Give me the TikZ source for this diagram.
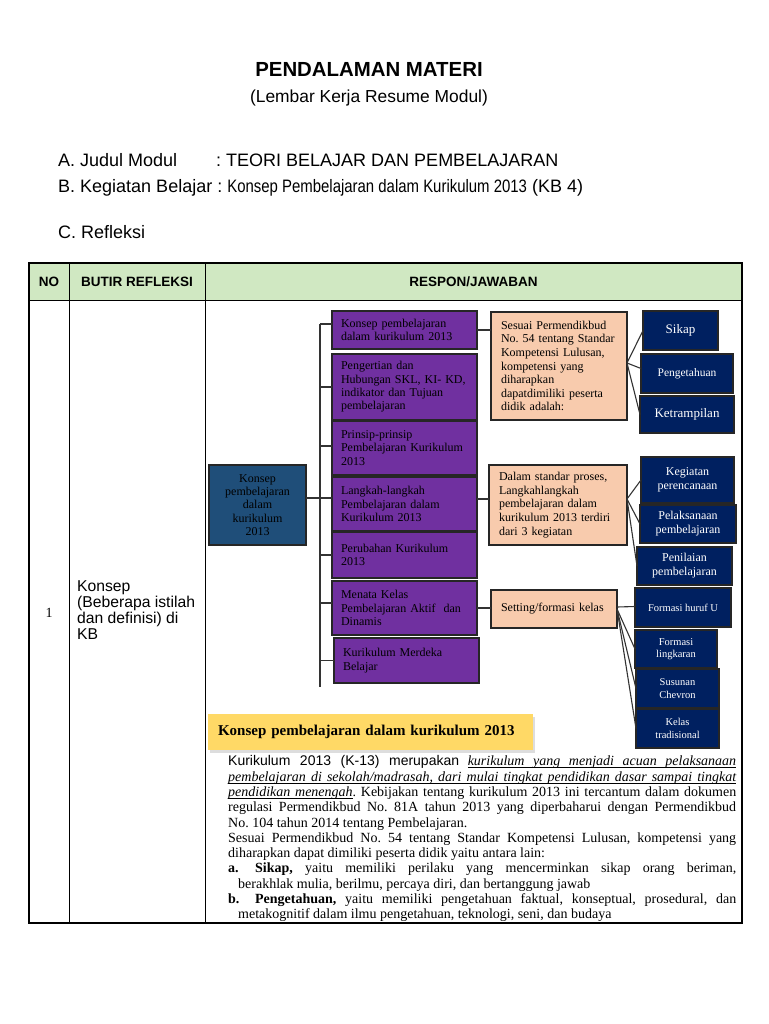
\documentclass[tikz,border=0pt]{standalone}
\usepackage{fontspec}
\usepackage{graphicx}
\setmainfont{Liberation Serif}
\newfontfamily\arialf{Liberation Sans}
\usetikzlibrary{calc,shadows}
\definecolor{hdrgreen}{RGB}{208,232,194}
\definecolor{purp}{RGB}{112,48,160}
\definecolor{peach}{RGB}{248,203,173}
\definecolor{navy}{RGB}{0,32,96}
\definecolor{steel}{RGB}{31,78,121}
\definecolor{gold}{RGB}{255,217,102}
\newcommand\myulw[1]{\setbox0\hbox{#1}\rlap{\vrule height -1.5pt depth 2.3pt width \wd0}\box0}
\newcommand\myuls{\leaders\hrule height -1.5pt depth 2.3pt\hskip\fontdimen2\font plus \fontdimen3\font minus \fontdimen4\font}
\def\myulwords#1{\myulwordsA#1 \relax}
\def\myulwordsA#1 #2\relax{\myulw{#1}\ifx\relax#2\relax\else\myuls\myulwordsA#2\relax\fi}
\frenchspacing
\begin{document}
\begin{tikzpicture}[x=1pt,y=-1pt,
  box/.style={rectangle, anchor=north west, outer sep=0pt, inner ysep=0pt, line width=1.4pt, draw=black!85},
  purpbox/.style={box, fill=purp, inner xsep=9pt, align=left, text=black,
     font=\fontsize{12}{13.3}\selectfont},
  peachbox/.style={box, fill=peach, inner xsep=10pt, align=left, text=black,
     font=\fontsize{12}{13.6}\selectfont},
  navybox/.style={box, fill=navy, inner xsep=2pt, align=center, text=white},
  conn/.style={draw=black!80, line width=1.1pt},
  hdr/.style={font=\arialf\bfseries\fontsize{13.5}{16}\selectfont},
  head/.style={anchor=base west, inner sep=0pt, font=\arialf\fontsize{18}{22}\selectfont}
]
\useasboundingbox (0,0) rectangle (768,1024);
\fill[white] (0,0) rectangle (768,1024);

% ---------- heading ----------
\node[anchor=base, font=\arialf\bfseries\fontsize{20.4}{24}\selectfont] (title) at (369,77) {PENDALAMAN MATERI};
\node[anchor=base, font=\arialf\fontsize{17.4}{21}\selectfont] (subtitle) at (369,103) {(Lembar Kerja Resume Modul)};
\node[head] (la) at (58,166.5) {A. Judul Modul};
\node[head] (la2) at (216,166.5) {: TEORI BELAJAR DAN PEMBELAJARAN};
\node[head] (lb) at (58,192.5) {B. Kegiatan Belajar : \scalebox{0.83}[1]{Konsep Pembelajaran dalam Kurikulum 2013} (KB 4)};
\node[head] (lc) at (58,238.5) {C. Refleksi};

% ---------- table ----------
\fill[hdrgreen] (29,263) rectangle (742,300);
\draw[line width=0.9pt] (29,300) -- (742,300);
\draw[line width=0.9pt] (69,263) -- (69,923);
\draw[line width=0.9pt] (205,263) -- (205,923);
\draw[line width=1.3pt] (29,263) rectangle (742,923);
\node[hdr] (hno) at (49,281.5) {NO};
\node[hdr] (hbutir) at (137,281.5) {BUTIR REFLEKSI};
\node[hdr] (hresp) at (473.5,281.5) {RESPON/JAWABAN};
\node[font=\fontsize{14}{16}\selectfont] (no1) at (49,613) {1};
\node[anchor=north west, inner sep=0pt, align=left, font=\arialf\fontsize{15.7}{16}\selectfont] (butir) at (77,580)
  {Konsep\\(Beberapa istilah\\dan definisi) di\\KB};

% ---------- diagram ----------
\node[box, fill=steel, minimum width=97, minimum height=80, text width=93, inner xsep=2pt, align=center,
      text=black, font=\fontsize{12}{13.3}\selectfont] (blue) at (209,465)
  {Konsep\\pembelajaran\\dalam\\kurikulum\\2013};

\node[purpbox, minimum width=145, minimum height=38, text width=127] (p1) at (332,311) {Konsep pembelajaran\\dalam kurikulum 2013};
\node[purpbox, minimum width=145, minimum height=66, text width=127] (p2) at (332,354) {Pengertian dan\\Hubungan SKL, KI- KD,\\indikator dan Tujuan\\pembelajaran};
\node[purpbox, minimum width=145, minimum height=54, text width=127] (p3) at (332,421) {Prinsip-prinsip\\Pembelajaran Kurikulum\\2013};
\node[purpbox, minimum width=145, minimum height=54, text width=127] (p4) at (332,477) {Langkah-langkah\\Pembelajaran dalam\\Kurikulum 2013};
\node[purpbox, minimum width=145, minimum height=46, text width=127] (p5) at (332,532) {Perubahan Kurikulum\\2013};
\node[purpbox, minimum width=145, minimum height=54, text width=127] (p6) at (332,581) {Menata Kelas\\Pembelajaran Aktif~ dan\\Dinamis};
\node[purpbox, minimum width=145, minimum height=45, text width=127] (p7) at (334,638) {Kurikulum Merdeka\\Belajar};

\node[peachbox, minimum width=136, minimum height=108, text width=116] (A) at (491,312)
  {Sesuai Permendikbud\\No. 54 tentang Standar\\Kompetensi Lulusan,\\kompetensi yang\\diharapkan\\dapatdimiliki peserta\\didik adalah:};
\node[peachbox, minimum width=138, minimum height=80, text width=118] (B) at (489,465)
  {Dalam standar proses,\\Langkahlangkah\\pembelajaran dalam\\kurikulum 2013 terdiri\\dari 3 kegiatan};
\node[peachbox, minimum width=126, minimum height=38, text width=106] (C) at (491,590) {Setting/formasi kelas};

\node[navybox, minimum width=75, minimum height=39, font=\fontsize{13}{15}\selectfont] (sikap) at (643,311) {Sikap};
\node[navybox, minimum width=92, minimum height=39, font=\fontsize{11.5}{13}\selectfont] (peng) at (641,354) {Pengetahuan};
\node[navybox, minimum width=94, minimum height=37, font=\fontsize{13}{15}\selectfont] (ket) at (640,396) {Ketrampilan};
\node[navybox, minimum width=93, minimum height=46, font=\fontsize{12}{14}\selectfont] (keg) at (641,457) {Kegiatan\\perencanaan};
\node[navybox, minimum width=96, minimum height=38, font=\fontsize{12}{14}\selectfont] (pel) at (640,505) {Pelaksanaan\\pembelajaran};
\node[navybox, minimum width=95, minimum height=38, font=\fontsize{12}{14}\selectfont] (pen) at (637,547) {Penilaian\\pembelajaran};
\node[navybox, minimum width=96, minimum height=39, font=\fontsize{10.5}{12.5}\selectfont] (fu) at (635,588) {Formasi huruf U};
\node[navybox, minimum width=82, minimum height=38, font=\fontsize{10.5}{12.5}\selectfont] (fl) at (635,630) {Formasi\\lingkaran};
\node[navybox, minimum width=83, minimum height=39, font=\fontsize{10.5}{12.5}\selectfont] (sc) at (636,669) {Susunan\\Chevron};
\node[navybox, minimum width=83, minimum height=39, font=\fontsize{10.5}{12.5}\selectfont] (kt) at (636,709) {Kelas\\tradisional};

% bus and ticks
\coordinate (bus) at (320,0);
\coordinate (busbot) at (320,687);
\draw[conn] ($(p1.west -| bus)+(0,-6)$) -- (busbot);
\draw[conn] ($(p1.west)+(0,-6)$) -- ($(p1.west -| bus)+(0,-6)$);
\draw[conn] (p2.west) -- (p2.west -| bus);
\draw[conn] ($(p3.west)+(0,-2)$) -- ($(p3.west -| bus)+(0,-2)$);
\draw[conn] ($(blue.east)+(0,-7)$) -- ($(p4.west)+(0,-6)$);
\draw[conn] (p5.west) -- (p5.west -| bus);
\draw[conn] ($(p6.west)+(0,-5)$) -- ($(p6.west -| bus)+(0,-5)$);
\draw[conn] (p7.west) -- (p7.west -| bus);

% purple to peach
\draw[conn] (p1.east) -- (p1.east -| A.west);
\draw[conn] ($(p4.east)+(0,-5)$) -- ($(p4.east -| B.west)+(0,-5)$);
\draw[conn] (p6.east) -- (p6.east -| C.west);

% peach to navy
\draw[conn] ($(A.east)+(0,-3)$) -- (sikap.west);
\draw[conn] ($(A.east)+(0,-3)$) -- ($(peng.west)+(0,-5)$);
\draw[conn] ($(A.east)+(0,-3)$) -- (ket.west);
\draw[conn] ($(B.east)+(0,-6)$) -- (keg.west);
\draw[conn] ($(B.east)+(0,-6)$) -- (pel.west);
\draw[conn] ($(B.east)+(0,-6)$) -- (pen.west);
\draw[conn] ($(C.east)+(0,-2)$) -- ($(fu.west)+(0,-1)$);
\draw[conn] (C.east) -- (fl.west);
\draw[conn] (C.east) -- (sc.west);
\draw[conn] (C.east) -- (kt.west);

% yellow heading
\node[anchor=north west, outer sep=0pt, fill=gold, minimum width=325, minimum height=36, inner xsep=10pt,
      text width=305, align=left, font=\bfseries\fontsize{15}{17}\selectfont,
      drop shadow={shadow xshift=2pt, shadow yshift=-2.5pt, opacity=0.22, fill=black!60}] (ybox) at (208,714)
  {Konsep pembelajaran dalam kurikulum 2013};

% body text
\node[anchor=north west, inner sep=0pt, text width=508, align=justify, font=\fontsize{14}{15.3}\selectfont] (body) at (228,755.5)
{{\arialf Kurikulum 2013 (K-13) merupakan} {\itshape\myulwords{kurikulum yang menjadi acuan pelaksanaan}}\linebreak
{\itshape\myulwords{pembelajaran di sekolah/madrasah, dari mulai tingkat pendidikan dasar sampai tingkat}}\linebreak
{\itshape\myulwords{pendidikan menengah}}. Kebijakan tentang kurikulum 2013 ini tercantum dalam dokumen\linebreak
regulasi Permendikbud No. 81A tahun 2013 yang diperbaharui dengan Permendikbud\linebreak
No. 104 tahun 2014 tentang Pembelajaran.\par
Sesuai Permendikbud No. 54 tentang Standar Kompetensi Lulusan, kompetensi yang\linebreak
diharapkan dapat dimiliki peserta didik yaitu antara lain:\par
{\hangindent=10pt \hangafter=1 \makebox[27pt][l]{\textbf{a.}}\textbf{Sikap,} yaitu memiliki perilaku yang mencerminkan sikap orang beriman,\linebreak
berakhlak mulia, berilmu, percaya diri, dan bertanggung jawab\par}
{\hangindent=10pt \hangafter=1 \makebox[27pt][l]{\textbf{b.}}\textbf{Pengetahuan,} yaitu memiliki pengetahuan faktual, konseptual, prosedural, dan\linebreak
metakognitif dalam ilmu pengetahuan, teknologi, seni, dan budaya\par}};
\end{tikzpicture}
\end{document}
